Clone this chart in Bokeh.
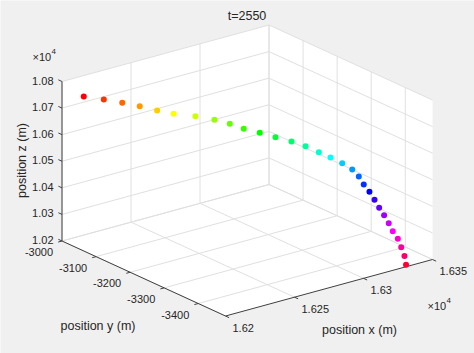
import colorsys
from bokeh.plotting import figure
from bokeh.models import Range1d
from bokeh.core.properties import value
from bokeh.embed import file_html
from bokeh.resources import INLINE

# ---------------- data ----------------
POS_X = [16213.3, 16220.7, 16227.5, 16233.9, 16240.3, 16246.4, 16254.4, 16261.4,
         16267.1, 16272.2, 16278.1, 16283.9, 16289.8, 16295.0, 16299.9, 16304.2,
         16308.5, 16312.2, 16314.6, 16316.4, 16318.5, 16320.4, 16322.1, 16323.9,
         16325.6, 16327.1, 16329.0, 16330.2, 16331.4, 16332.0]
POS_Y = [-3010.0, -3038.9, -3065.5, -3090.9, -3116.0, -3139.9, -3171.3, -3198.7,
         -3220.8, -3241.0, -3264.1, -3286.8, -3309.9, -3330.1, -3349.3, -3366.2,
         -3383.1, -3397.5, -3407.1, -3414.3, -3422.5, -3429.7, -3436.5, -3443.7,
         -3450.4, -3456.1, -3463.3, -3468.4, -3473.0, -3475.2]
POS_Z = [10730.6, 10725.8, 10719.4, 10712.4, 10701.9, 10694.9, 10692.9, 10685.6,
         10675.6, 10661.3, 10651.5, 10640.1, 10629.1, 10616.1, 10597.8, 10581.7,
         10564.1, 10543.7, 10519.5, 10491.0, 10465.4, 10437.0, 10408.4, 10382.2,
         10353.6, 10324.8, 10297.9, 10267.4, 10235.4, 10202.7]

X_LIM = (16200, 16350)
Y_LIM = (-3480, -3000)
Z_LIM = (10200, 10800)
X_TICKS = [16200, 16250, 16300, 16350]
X_TICK_LABELS = ["1.62", "1.625", "1.63", "1.635"]
Y_TICKS = [-3000, -3100, -3200, -3300, -3400]
Y_TICK_LABELS = ["-3000", "-3100", "-3200", "-3300", "-3400"]
Z_TICKS = [10200, 10300, 10400, 10500, 10600, 10700, 10800]
Z_TICK_LABELS = ["1.02", "1.03", "1.04", "1.05", "1.06", "1.07", "1.08"]
TITLE = "t=2550"
X_LABEL = "position x (m)"
Y_LABEL = "position y (m)"
Z_LABEL = "position z (m)"

# ---------------- orthographic view of the box (screen px) ----------------
ORIGIN = (225.0, 315.5)     # (x min, y min, z min)
EU = (207.0, -56.5)         # full x range
EV = (-163.5, -75.0)        # full y range
EW = (0.0, -159.5)          # full z range


def proj(x, y, z):
    u = (x - X_LIM[0]) / (X_LIM[1] - X_LIM[0])
    v = (y - Y_LIM[0]) / (Y_LIM[1] - Y_LIM[0])
    w = (z - Z_LIM[0]) / (Z_LIM[1] - Z_LIM[0])
    return (ORIGIN[0] + EU[0] * u + EV[0] * v + EW[0] * w,
            ORIGIN[1] + EU[1] * u + EV[1] * v + EW[1] * w)


FONT = value("Liberation Sans")
TXT = "#262626"

p = figure(width=474, height=353, x_range=Range1d(0, 474), y_range=Range1d(353, 0),
           output_backend="svg", toolbar_location=None, min_border=0,
           x_axis_type=None, y_axis_type=None)
p.grid.visible = False
p.outline_line_color = None
p.background_fill_color = "#f0f0f0"
p.border_fill_color = "#f0f0f0"

x0, x1 = X_LIM
y0, y1 = Y_LIM
z0, z1 = Z_LIM

# white back panes
hexa = [proj(x0, y1, z1), proj(x0, y1, z0), proj(x0, y0, z0), proj(x1, y0, z0),
        proj(x1, y0, z1), proj(x1, y1, z1)]
p.patch([q[0] for q in hexa], [q[1] for q in hexa], fill_color="white", line_color=None)

# grid lines
segs = []
for xt in X_TICKS:
    segs.append((proj(xt, y0, z0), proj(xt, y1, z0)))
    segs.append((proj(xt, y1, z0), proj(xt, y1, z1)))
for yt in Y_TICKS:
    segs.append((proj(x0, yt, z0), proj(x1, yt, z0)))
    segs.append((proj(x1, yt, z0), proj(x1, yt, z1)))
for zt in Z_TICKS:
    segs.append((proj(x0, y1, zt), proj(x1, y1, zt)))
    segs.append((proj(x1, y0, zt), proj(x1, y1, zt)))
p.multi_line([[a[0], b[0]] for a, b in segs], [[a[1], b[1]] for a, b in segs],
             line_color="#e0e0e0", line_width=1)

# axis lines
A = proj(x0, y1, z0)
B = proj(x0, y0, z0)
C = proj(x1, y0, z0)
At = proj(x0, y1, z1)
AX = "#404040"
p.multi_line([[A[0], B[0]], [B[0], C[0]], [A[0], At[0]]],
             [[A[1], B[1]], [B[1], C[1]], [A[1], At[1]]], line_color=AX, line_width=1)

# tick marks
import math
def unit(vx, vy, s):
    n = math.hypot(vx, vy)
    return vx / n * s, vy / n * s

TL = 4.0
dz = unit(EV[0], EV[1], TL)
dy = unit(-EU[0], -EU[1], TL)
dx = unit(-EV[0], -EV[1], TL)
tx, ty = [], []
for xt in X_TICKS:
    a = proj(xt, y0, z0)
    tx.append([a[0], a[0] + dx[0]]); ty.append([a[1], a[1] + dx[1]])
for yt in Y_TICKS:
    a = proj(x0, yt, z0)
    tx.append([a[0], a[0] + dy[0]]); ty.append([a[1], a[1] + dy[1]])
for zt in Z_TICKS:
    a = proj(x0, y1, zt)
    tx.append([a[0], a[0] + dz[0]]); ty.append([a[1], a[1] + dz[1]])
p.multi_line(tx, ty, line_color=AX, line_width=1)

# tick labels
zp = [proj(x0, y1, zt) for zt in Z_TICKS]
p.text([q[0] - 8.5 for q in zp], [q[1] - 1 for q in zp], text=Z_TICK_LABELS,
       text_font=FONT, text_font_size=value("11px"), text_color=TXT,
       text_align="right", text_baseline="middle")
yp = [proj(x0, yt, z0) for yt in Y_TICKS]
p.text([q[0] - 23 for q in yp], [q[1] + 11 for q in yp], text=Y_TICK_LABELS,
       text_font=FONT, text_font_size=value("11px"), text_color=TXT,
       text_align="center", text_baseline="middle")
xp = [proj(xt, y0, z0) for xt in X_TICKS]
p.text([q[0] + 7 for q in xp], [q[1] + 11.5 for q in xp], text=X_TICK_LABELS,
       text_font=FONT, text_font_size=value("11px"), text_color=TXT,
       text_align="left", text_baseline="middle")

# exponent labels
p.text([At[0] - 29.5, C[0] - 5], [At[1] - 25, C[1] + 46], text=["\u00d710", "\u00d710"],
       text_font=FONT, text_font_size=value("11px"), text_color=TXT,
       text_align="left", text_baseline="middle")
p.text([At[0] - 10.5, C[0] + 14], [At[1] - 30, C[1] + 41], text=["4", "4"],
       text_font=FONT, text_font_size=value("8px"), text_color=TXT,
       text_align="left", text_baseline="middle")

# axis labels and title
p.text([359], [329], text=[X_LABEL], text_font=FONT, text_font_size=value("12.5px"),
       text_color=TXT, text_align="center", text_baseline="middle")
p.text([97.5], [325.5], text=[Y_LABEL], text_font=FONT, text_font_size=value("12.5px"),
       text_color=TXT, text_align="center", text_baseline="middle")
p.text([21], [160], text=[Z_LABEL], text_font=FONT, text_font_size=value("12.5px"),
       text_color=TXT, text_align="center", text_baseline="middle", angle=math.pi / 2)
p.text([246.5], [15.5], text=[TITLE], text_font=FONT, text_font_size=value("12.5px"),
       text_color=TXT, text_align="center", text_baseline="middle")

# data points, hsv colormap
n = len(POS_X)
colors = []
for i in range(n):
    r, g, b = colorsys.hsv_to_rgb(i / n, 1.0, 1.0)
    colors.append("#%02x%02x%02x" % (round(r * 255), round(g * 255), round(b * 255)))
pts = [proj(a, b, c) for a, b, c in zip(POS_X, POS_Y, POS_Z)]
p.scatter([q[0] for q in pts], [q[1] for q in pts], size=6, fill_color=colors,
          line_color=None)

open("out.html", "w").write(file_html(p, INLINE))
